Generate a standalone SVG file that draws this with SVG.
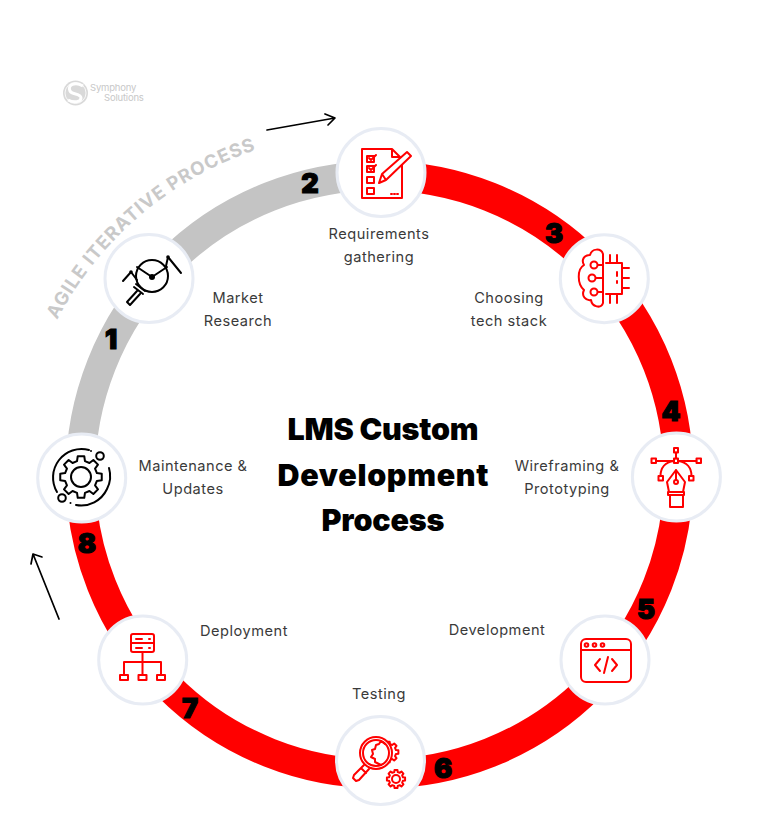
<svg xmlns="http://www.w3.org/2000/svg" xmlns:xlink="http://www.w3.org/1999/xlink" width="768" height="832" viewBox="0 0 768 832">
<style>
text{font-family:"Inter","Liberation Sans",sans-serif}
.lbl{font-size:14.6px;fill:#3a3a3a;text-anchor:middle;letter-spacing:.5px}
.ttl{font-size:30.500px;font-weight:900;fill:#000;text-anchor:middle}
.num{font-size:27px;font-weight:900;fill:#000;text-anchor:middle;stroke:#000;stroke-width:1.2px}
.ring{fill:none;stroke-width:29.5}
.disc{fill:#fff;stroke:#e8ecf4;stroke-width:3}
.r{fill:none;stroke:#f00;stroke-width:2;stroke-linejoin:round;stroke-linecap:round}
.k{fill:none;stroke:#000;stroke-width:2;stroke-linejoin:round;stroke-linecap:round}
.arr{fill:none;stroke:#000;stroke-width:1.7;stroke-linecap:round;stroke-linejoin:round}
</style>
<defs>
<path id="gear" vector-effect="non-scaling-stroke" d="M7.57-1.89L9.88-1.56L9.88 1.56L7.57 1.89L6.69 4.02L8.09 5.88L5.88 8.09L4.02 6.69L1.89 7.57L1.56 9.88L-1.56 9.88L-1.89 7.57L-4.02 6.69L-5.88 8.09L-8.09 5.88L-6.69 4.02L-7.57 1.89L-9.88 1.56L-9.88-1.56L-7.57-1.89L-6.69-4.02L-8.09-5.88L-5.88-8.09L-4.02-6.69L-1.89-7.57L-1.56-9.88L1.56-9.88L1.89-7.57L4.02-6.69L5.88-8.09L8.09-5.88L6.69-4.02Z"/>
<path id="curve" d="M57 320A350 350 0 0 1 367 131.700"/>
</defs>
<g id="logo">
<circle cx="75.500" cy="93" r="12.500" fill="#d9d9d9"/>
<circle cx="75.500" cy="93" r="10.500" fill="none" stroke="#fff" stroke-width=".8"/>
<path d="M83 86C75 81 67 85 70 91C72 95 81 93 81 98C81 102 74 103 68 100" fill="none" stroke="#fff" stroke-width="3"/>
<text x="90" y="91" font-size="9.500" letter-spacing="-.2" fill="#c8c8c8">Symphony</text>
<text x="104" y="100.500" font-size="9.500" letter-spacing="-.2" fill="#c8c8c8">Solutions</text>
</g>
<g id="connectors">
<path class="ring" stroke="#c4c4c4" d="M80.500 475A299 299 0 0 1 379.500 175.800"/>
<path class="ring" stroke="#f00" d="M379.500 175.800A299 299 0 1 1 80.500 475"/>
<path class="arr" d="M267 130L335 118M325 114L335 118L328 125"/>
<path class="arr" d="M59 619L33 554M31 564L33 554L42 557"/>
</g>
<text id="agile" font-size="18.500" font-weight="700" fill="#c9c9c9" letter-spacing="1"><textPath xlink:href="#curve" href="#curve">AGILE ITERATIVE PROCESS</textPath></text>
<g id="title">
<text class="ttl" x="383" y="440" textLength="191" lengthAdjust="spacing">LMS Custom</text>
<text class="ttl" x="383" y="486" textLength="211" lengthAdjust="spacing">Development</text>
<text class="ttl" x="383" y="531" textLength="123" lengthAdjust="spacing">Process</text>
</g>
<g id="node1">
<circle class="disc" cx="149" cy="278.500" r="44"/>
<circle class="k" cx="152" cy="276" r="16"/>
<path class="k" d="M123 281L131 272L137 280M137 267L152 277L167 267M166 266L168 257L181 273"/>
<circle cx="152" cy="277" r="3" fill="#000"/><circle cx="131" cy="272" r="1.800" fill="#000"/><circle cx="168" cy="257" r="1.800" fill="#000"/>
<path class="k" stroke-width="1.500" d="M136 284L145 291M134 287L143 294M137 291L127 302L130 305L140 294"/>
<text class="lbl" x="238" y="303">Market</text>
<text class="lbl" x="238" y="326">Research</text>
<text class="num" x="111" y="349">1</text>
</g>
<g id="node2">
<circle class="disc" cx="381" cy="172.500" r="44"/>
<path class="r" d="M392 149H362V198H402V165M392 149V157H400L392 149"/>
<path class="r" d="M379 183L382 174L407 152L411 156L386 180Z M382 174L386 180"/>
<path class="r" d="M367 156H374V162H367ZM367 166H374V172H367ZM367 177H374V183H367ZM367 188H374V194H367ZM369 158L371 160L376 155M369 168L371 170L376 165"/>
<path class="r" stroke-width="1.200" d="M391 194H392M394 194H395M397 194H398"/>
<text class="lbl" x="379" y="239">Requirements</text>
<text class="lbl" x="379" y="262">gathering</text>
<text class="num" x="310" y="193">2</text>
</g>
<g id="node3">
<circle class="disc" cx="604.300" cy="278.700" r="44"/>
<path class="r" stroke-width="2.300" d="M603 254C601 248 592 248 590 255C584 255 581 260 584 265C577 269 577 284 584 290C581 296 586 301 591 300C592 307 601 309 603 303Z"/>
<path class="r" stroke-width="2.300" d="M606 263H622V294H606M610 263V255M617 263V255M610 294V303M617 294V303M622 268H629M622 278H629M622 288H629"/>
<path class="r" stroke-width="2" d="M598 265H603M596 278H603M598 292H603M617 272V276M617 281V283"/>
<circle class="r" stroke-width="2.300" cx="594" cy="265" r="3.500"/><circle class="r" stroke-width="2.300" cx="592" cy="278" r="3.500"/><circle class="r" stroke-width="2.300" cx="594" cy="292" r="3.500"/>
<text class="lbl" x="509" y="303">Choosing</text>
<text class="lbl" x="509" y="326">tech stack</text>
<text class="num" x="554" y="243">3</text>
</g>
<g id="node4">
<circle class="disc" cx="676.400" cy="477" r="44"/>
<path class="r" d="M674 448H678V452.500H674ZM674 458.500H678V463H674ZM651.500 458.500H656V463H651.500ZM696.500 458.500H701V463H696.500ZM658.500 476H663V480.500H658.500ZM689 476H693.500V480.500H689Z"/>
<path class="r" d="M676 452.500V458.500M656 461H674M678 461H696.500M674 461C665 462 660.500 468 660.500 476M678 461C687 462 691.500 468 691.500 476"/>
<path class="r" d="M676 470L667 482L669 492H683L685 482ZM676 470V480"/>
<circle class="r" cx="676" cy="482" r="2"/>
<path class="r" d="M668 492H684V495H668ZM670 495V507H683V495"/>
<text class="lbl" x="567" y="471">Wireframing &amp;</text>
<text class="lbl" x="567" y="494">Prototyping</text>
<text class="num" x="671" y="421">4</text>
</g>
<g id="node5">
<circle class="disc" cx="605" cy="660" r="44"/>
<rect class="r" x="581" y="639" width="50" height="43" rx="5"/>
<path class="r" d="M581 650H631M600 659L595 665L600 671M612 659L617 665L612 671M608 657L604 673"/>
<circle class="r" stroke-width="1.600" cx="586.500" cy="645" r="1.800"/><circle class="r" stroke-width="1.600" cx="594.500" cy="645" r="1.800"/><circle class="r" stroke-width="1.600" cx="602.500" cy="645" r="1.800"/>
<text class="lbl" x="497" y="635">Development</text>
<text class="num" x="646" y="619">5</text>
</g>
<g id="node6">
<circle class="disc" cx="380.500" cy="760.500" r="44"/>
<use href="#gear" xlink:href="#gear" class="r" transform="translate(388 752) scale(1.050)"/>
<circle cx="376" cy="753" r="16" fill="#fff" stroke="#f00" stroke-width="2"/>
<circle class="r" cx="376" cy="753" r="13"/>
<path class="r" d="M364 765L354 775L353 778L356 781L359 780L369 769M361 768L366 773"/>
<path class="r" d="M385 744L381 741L379 744L376 745L375 749L372 750L373 754L371 757L375 759L375 762L379 764L381 765"/>
<use href="#gear" xlink:href="#gear" class="r" transform="translate(396 779) scale(.92)"/>
<circle class="r" cx="396" cy="779" r="4"/>
<text class="lbl" x="379" y="699">Testing</text>
<text class="num" x="443" y="778">6</text>
</g>
<g id="node7">
<circle class="disc" cx="142.700" cy="660" r="44"/>
<rect class="r" x="131" y="634" width="23" height="18" rx="2"/>
<path class="r" d="M131 643H154M136 639H142M136 648H142M149 639H150M149 648H150M142.500 652V675M124 675V662H161V675"/>
<rect class="r" x="120" y="675" width="8" height="5"/><rect class="r" x="138.500" y="675" width="8" height="5"/><rect class="r" x="157" y="675" width="8" height="5"/>
<text class="lbl" x="244" y="636">Deployment</text>
<text class="num" x="190" y="718">7</text>
</g>
<g id="node8">
<circle class="disc" cx="81.700" cy="478" r="44"/>
<path class="k" d="M89 450A28.500 28.500 0 0 0 57 492M76 505A28.500 28.500 0 0 0 107 489A28.500 28.500 0 0 0 109 468"/>
<use href="#gear" xlink:href="#gear" class="k" transform="translate(81 477) scale(2.100)"/>
<circle class="k" cx="81" cy="477" r="10"/>
<circle class="k" cx="100" cy="456" r="3.800"/><circle class="k" cx="62" cy="498" r="3.800"/>
<circle cx="91" cy="451" r="1" fill="#000"/><circle cx="70.500" cy="503" r="1" fill="#000"/>
<text class="lbl" x="193" y="471">Maintenance &amp;</text>
<text class="lbl" x="193" y="494">Updates</text>
<text class="num" x="87" y="553">8</text>
</g>
</svg>
